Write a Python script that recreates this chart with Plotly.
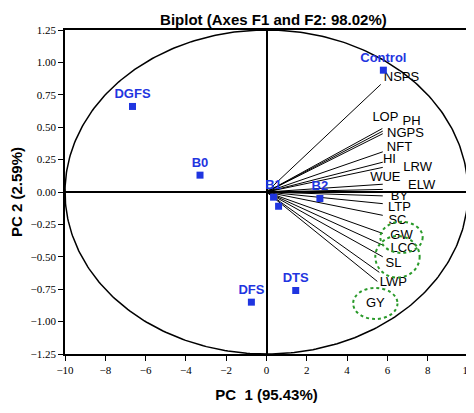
import numpy as np
import plotly.graph_objects as go

obs_names = ["Control", "DGFS", "B0", "B2", "B1", "", "DTS", "DFS"]
obs_x = [5.8, -6.65, -3.3, 2.65, 0.35, 0.6, 1.45, -0.75]
obs_y = [0.94, 0.66, 0.13, -0.05, -0.04, -0.11, -0.76, -0.85]

var_names = ["NSPS", "LOP", "PH", "NGPS", "NFT", "HI", "LRW", "WUE", "ELW", "BY",
             "LTP", "SC", "GW", "LCC", "SL", "LWP", "GY"]
var_x = [5.67, 5.75, 5.77, 5.77, 5.77, 5.77, 5.77, 5.77, 5.77, 5.77,
         5.77, 5.77, 5.77, 5.77, 5.77, 5.6, 5.5]
var_y = [0.83, 0.49, 0.47, 0.45, 0.31, 0.23, 0.19, 0.06, 0.02, -0.03,
         -0.09, -0.18, -0.32, -0.41, -0.50, -0.62, -0.69]
lab_x = [6.7, 5.9, 7.2, 6.9, 6.6, 6.1, 7.5, 5.9, 7.7, 6.6,
         6.6, 6.5, 6.7, 6.8, 6.3, 6.3, 5.4]
lab_y = [0.88, 0.57, 0.54, 0.45, 0.34, 0.25, 0.19, 0.11, 0.05, -0.04,
         -0.12, -0.22, -0.34, -0.44, -0.55, -0.70, -0.86]

obs_text = ["<b>%s</b>" % n if n else "" for n in obs_names]

fig = go.Figure()
t = np.linspace(0, 2*np.pi, 400)
fig.add_trace(go.Scatter(x=10*np.cos(t), y=1.25*np.sin(t), mode="lines",
                         line=dict(color="black", width=1.5), hoverinfo="skip"))
for vx, vy in zip(var_x, var_y):
    fig.add_trace(go.Scatter(x=[0, vx], y=[0, vy], mode="lines",
                             line=dict(color="black", width=1)))
fig.add_trace(go.Scatter(x=lab_x, y=lab_y, mode="text", text=var_names,
                         textfont=dict(family="Arial", size=13, color="black")))
fig.add_trace(go.Scatter(x=obs_x, y=obs_y, mode="markers+text", text=obs_text,
                         textposition="top center",
                         marker=dict(symbol="square", size=7, color="#1f35e0"),
                         textfont=dict(family="Arial", size=13, color="#1f35e0")))
for cx, cy, rx, ry in [(6.7, -0.35, 1.05, 0.12), (6.5, -0.5, 1.1, 0.16), (5.4, -0.86, 1.1, 0.12)]:
    fig.add_shape(type="circle", x0=cx-rx, x1=cx+rx, y0=cy-ry, y1=cy+ry,
                  line=dict(color="#2a9a2a", width=2, dash="dot"))

ax = dict(showgrid=False, zeroline=True, zerolinecolor="black", zerolinewidth=1.5,
          showline=True, linecolor="black", linewidth=1.5, mirror=True,
          ticks="outside", tickcolor="black",
          tickfont=dict(family="Times New Roman, Liberation Serif", size=11, color="black"))
fig.update_layout(
    width=474, height=413, plot_bgcolor="white", paper_bgcolor="white",
    showlegend=False, margin=dict(l=57, r=8, t=22, b=67),
    title=dict(text="<b>Biplot (Axes F1 and F2: 98.02%)</b>", x=0.56, y=0.985,
               font=dict(family="Arial", size=15, color="black")),
    xaxis=dict(ax, range=[-10, 10], dtick=2,
               title=dict(text="<b>PC  1 (95.43%)</b>", font=dict(family="Arial", size=15, color="black"))),
    yaxis=dict(ax, range=[-1.25, 1.25], dtick=0.25, tickformat=".2f",
               title=dict(text="<b>PC 2 (2.59%)</b>", font=dict(family="Arial", size=15, color="black"), standoff=4)),
)
fig.write_html("out.html")
